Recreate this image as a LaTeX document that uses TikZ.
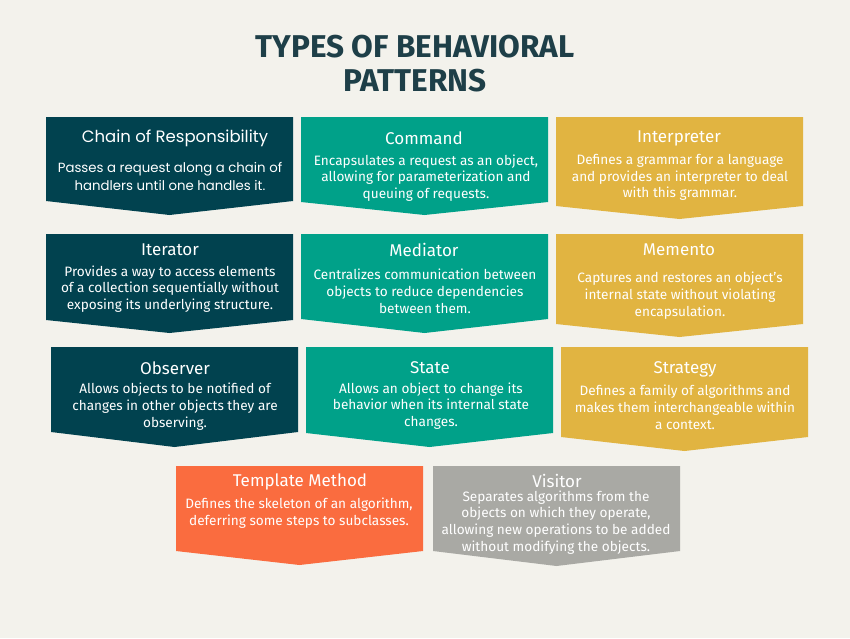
\documentclass[tikz,border=0pt]{standalone}
\usepackage{fontspec}
\setmainfont{Fira Sans}
\newfontfamily\roundfont{Poppins}
\definecolor{bgpaper}{HTML}{F3F2EC}
\definecolor{titleink}{HTML}{1E3F48}
\definecolor{deepteal}{HTML}{01424F}
\definecolor{jade}{HTML}{00A189}
\definecolor{mustard}{HTML}{E1B441}
\definecolor{coral}{HTML}{FA6C3F}
\definecolor{stone}{HTML}{A9A9A4}
% chevron panel: name, left, top, corner, tip, colour
\newcommand{\chevron}[6]{%
  \fill[#6] (#2,#3) coordinate (#1-nw) -- (#2+247,#3) coordinate (#1-ne)
    -- (#2+247,#4) -- (#2+123.5,#5) coordinate (#1-tip) -- (#2,#4) -- cycle;}

\begin{document}
\begin{tikzpicture}[x=1pt,y=-1pt,
   heading/.style={text=titleink,align=center,inner sep=0pt,
     font=\fontsize{31.5}{34}\selectfont\bfseries},
   head/.style={text=white,inner sep=0pt,font=\fontsize{17}{20}\selectfont},
   desc/.style={text=white,align=center,inner sep=0pt,
     font=\fontsize{13.6}{16.8}\selectfont}]
\fill[bgpaper] (0,0) rectangle (850,638);
\useasboundingbox (0,0) rectangle (850,638);
\node[heading] (title) at (415,64) {TYPES OF BEHAVIORAL\\PATTERNS};
% row 1
\chevron{chain}{46}{117}{201}{215}{deepteal}
\chevron{command}{301}{117}{202}{215}{jade}
\chevron{interp}{556}{117}{206}{219}{mustard}
\node[head,font=\roundfont\fontsize{16.5}{20}\selectfont] (chain-t) at (175,138) {Chain of Responsibility};
\node[desc,font=\roundfont\fontsize{13.3}{18}\selectfont] (chain-d) at (170,176) {Passes a request along a chain of\\handlers until one handles it.};
\node[head] (command-t) at (424,138) {Command};
\node[desc] (command-d) at (426,178) {Encapsulates a request as an object,\\allowing for parameterization and\\queuing of requests.};
\node[head] (interp-t) at (679,138) {Interpreter};
\node[desc] (interp-d) at (680,177.5) {Defines a grammar for a language\\and provides an interpreter to deal\\with this grammar.};
% row 2
\chevron{iter}{46}{234}{320}{333}{deepteal}
\chevron{mediator}{301}{234}{319}{333}{jade}
\chevron{memento}{556}{234}{324}{337}{mustard}
\node[head] (iter-t) at (170,250) {Iterator};
\node[desc] (iter-d) at (170,289) {Provides a way to access elements\\of a collection sequentially without\\exposing its underlying structure.};
\node[head] (mediator-t) at (424,250) {Mediator};
\node[desc] (mediator-d) at (425,291) {Centralizes communication between\\objects to reduce dependencies\\between them.};
\node[head] (memento-t) at (679,250) {Memento};
\node[desc] (memento-d) at (680,295.5) {Captures and restores an object's\\internal state without violating\\encapsulation.};
% row 3
\chevron{observer}{51}{347}{432}{447}{deepteal}
\chevron{state}{306}{347}{433}{447}{jade}
\chevron{strategy}{561}{347}{437}{451}{mustard}
\node[head] (observer-t) at (175,368) {Observer};
\node[desc] (observer-d) at (175,406.5) {Allows objects to be notified of\\changes in other objects they are\\observing.};
\node[head] (state-t) at (430,368) {State};
\node[desc] (state-d) at (431,406) {Allows an object to change its\\behavior when its internal state\\changes.};
\node[head] (strategy-t) at (685,369) {Strategy};
\node[desc] (strategy-d) at (685,407) {Defines a family of algorithms and\\makes them interchangeable within\\a context.};
% row 4
\chevron{template}{176}{466}{551}{565}{coral}
\chevron{visitor}{433}{466}{551}{566}{stone}
\node[head] (template-t) at (300,482) {Template Method};
\node[desc] (template-d) at (299,513) {Defines the skeleton of an algorithm,\\deferring some steps to subclasses.};
\node[head] (visitor-t) at (557,481) {Visitor};
\node[desc] (visitor-d) at (556,522.5) {Separates algorithms from the\\objects on which they operate,\\allowing new operations to be added\\without modifying the objects.};
\end{tikzpicture}
\end{document}
